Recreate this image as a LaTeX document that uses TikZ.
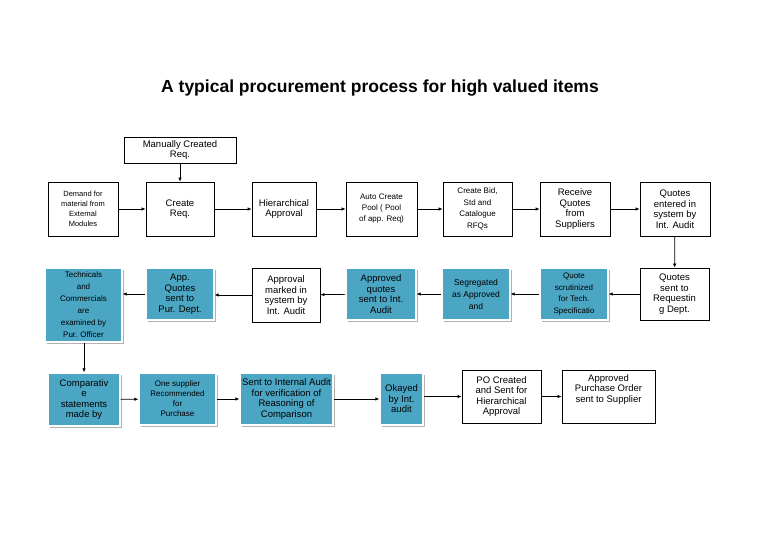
\documentclass[tikz,border=0pt]{standalone}
\usepackage{fontspec}
\setmainfont{Liberation Sans}
\usetikzlibrary{arrows.meta}
\definecolor{bl}{HTML}{4BA6C4}
\begin{document}
\begin{tikzpicture}[x=1pt,y=-1pt,
 wb/.style={draw=black,fill=white,line width=0.8pt,align=center,inner sep=1pt,font=\fontsize{9.5}{10.5}\selectfont},
 bb/.style={draw=white,line width=1.2pt,fill=bl,align=center,inner sep=1pt,font=\fontsize{9.5}{10.5}\selectfont,
   preaction={fill=gray!60,transform canvas={shift={(2pt,-2pt)}}}},
 s8/.style={font=\fontsize{8}{11}\selectfont},
 ar/.style={-{Latex[length=4pt,width=3.5pt]},line width=0.7pt}]
\useasboundingbox (0,0) rectangle (768,543);
\node[font=\bfseries\fontsize{17.5}{20}\selectfont] (t) at (380,88) {A typical procurement process for high valued items};
\newcommand\bx[7]{\node[#1,minimum width=#4-#2,minimum height=#5-#3] (#6) at ({(#2+#4)/2},{(#3+#5)/2}) {#7};}
\bx{wb}{124}{137}{236}{163}{man}{Manually Created\\Req.}
\bx{wb,font=\fontsize{7.5}{10}\selectfont}{48}{182}{118}{236}{dem}{Demand for\\material from\\External\\Modules}
\bx{wb}{146}{182}{214}{236}{cr}{Create\\Req.}
\bx{wb}{252}{182}{316}{236}{ha}{Hierarchical\\Approval}
\bx{wb,s8}{346}{182}{417}{236}{ac}{Auto Create\\Pool ( Pool\\of app. Req)}
\bx{wb,font=\fontsize{8}{11.5}\selectfont}{443}{182}{512}{236}{cb}{Create Bid,\\Std and\\Catalogue\\RFQs}
\bx{wb}{540}{182}{610}{236}{rq}{Receive\\Quotes\\from\\Suppliers}
\bx{wb}{640}{182}{710}{236}{qe}{Quotes\\entered in\\system by\\Int. Audit}
\bx{bb,font=\fontsize{8}{12}\selectfont}{45}{268}{122}{342}{tc}{Technicals\\and\\Commercials\\are\\examined by\\Pur. Officer}
\bx{bb}{146}{268}{214}{320}{aq}{App.\\Quotes\\sent to\\Pur. Dept.}
\bx{wb}{252}{268}{320}{322}{am}{Approval\\marked in\\system by\\Int. Audit}
\bx{bb}{346}{268}{416}{320}{apq}{Approved\\quotes\\sent to Int.\\Audit}
\bx{bb,font=\fontsize{8.5}{12}\selectfont}{442}{268}{510}{320}{sg}{Segregated\\as Approved\\and}
\bx{bb,font=\fontsize{8}{11.5}\selectfont}{540}{268}{608}{320}{qs}{Quote\\scrutinized\\for Tech.\\Specificatio}
\bx{wb}{640}{268}{709}{320}{qr}{Quotes\\sent to\\Requestin\\g Dept.}
\bx{bb}{48}{373}{120}{426}{cs}{Comparativ\\e\\statements\\made by}
\bx{bb,font=\fontsize{8}{10}\selectfont}{139}{373}{216}{425}{os}{One supplier\\Recommended\\for\\Purchase}
\bx{bb}{240}{373}{333}{425}{si}{Sent to Internal Audit\\for verification of\\Reasoning of\\Comparison}
\bx{bb}{380}{373}{423}{425}{ok}{Okayed\\by Int.\\audit}
\bx{wb}{462}{370}{541}{423}{po}{PO Created\\and Sent for\\Hierarchical\\Approval}
\bx{wb}{562}{370}{655}{423}{ap}{}
\node[font=\fontsize{9.5}{10.5}\selectfont,align=center,anchor=north,inner sep=0pt] (apt) at (608.5,374) {Approved\\Purchase Order\\sent to Supplier};
\draw[ar] (man) -- (cr);
\draw[ar] (dem) -- (cr); \draw[ar] (cr) -- (ha); \draw[ar] (ha) -- (ac);
\draw[ar] (ac) -- (cb); \draw[ar] (cb) -- (rq); \draw[ar] (rq) -- (qe);
\draw[ar] (qe) -- (qr); \draw[ar] (qr) -- (qs); \draw[ar] (qs) -- (sg);
\draw[ar] (sg) -- (apq); \draw[ar] (apq) -- (am); \draw[ar] (am.west) -- (aq.east|-am.west);
\draw[ar] (aq.west) -- (tc.east|-aq.west); \draw[ar] (tc.south-|cs.north) -- (cs.north);
\draw[ar] (cs) -- (os); \draw[ar] (os) -- (si); \draw[ar] (si) -- (ok);
\draw[ar] (ok.east|-po.west) -- (po.west); \draw[ar] (po) -- (ap);
\end{tikzpicture}
\end{document}
